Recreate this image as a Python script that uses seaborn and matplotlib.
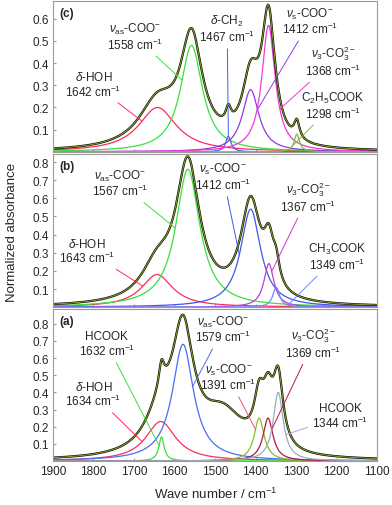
import numpy as np
import pandas as pd
import seaborn as sns
import matplotlib.pyplot as plt

# band parameters: centre (cm-1), height, half width
c_centres = [1642, 1558, 1467, 1412, 1368, 1298]
c_heights = [0.20, 0.48, 0.07, 0.28, 0.57, 0.08]
c_widths = [57, 33, 8, 25, 20, 8]
c_colors = ["#ff2b5e", "#3ae03a", "#3a62f0", "#8f3ae0", "#f03ad8", "#7ac23a"]

b_centres = [1643, 1567, 1412, 1367, 1349]
b_heights = [0.18, 0.76, 0.54, 0.24, 0.11]
b_widths = [47, 36, 30, 15, 10]
b_colors = ["#ff2b5e", "#3ae03a", "#3a5ae8", "#c43ad0", "#6e8cff"]

a_centres = [1634, 1632, 1579, 1391, 1369, 1344]
a_heights = [0.23, 0.14, 0.68, 0.25, 0.25, 0.40]
a_widths = [45, 8, 32, 15, 15, 15]
a_colors = ["#ff2b5e", "#3ae03a", "#4a6ef0", "#8cbc2a", "#b0184a", "#9aacbc"]
# broad unlabelled absorption under (a), only seen in the measured trace
a_bg_centre, a_bg_height, a_bg_width = 1480, 0.24, 65

wn = np.arange(1100, 1901, 1.0)


def band(x, x0, h, g):
    return h / (1 + ((x - x0) / g) ** 2)


plt.rcParams["mathtext.fontset"] = "custom"
plt.rcParams["mathtext.rm"] = "Liberation Sans"
plt.rcParams["mathtext.it"] = "Liberation Sans:italic"
sns.set_style("ticks")
plt.rcParams["font.family"] = ["Liberation Sans", "DejaVu Sans"]
plt.rcParams["font.size"] = 8.5

fig = plt.figure(figsize=(3.92, 5.06), dpi=100)
left, width = 0.135, 0.827
ax_c = fig.add_axes([left, 0.698, width, 0.298])
ax_b = fig.add_axes([left, 0.391, width, 0.303])
ax_a = fig.add_axes([left, 0.087, width, 0.300])

panels = [
    (ax_c, "(c)", c_centres, c_heights, c_widths, c_colors, 0.68, [0.1, 0.2, 0.3, 0.4, 0.5, 0.6], None),
    (ax_b, "(b)", b_centres, b_heights, b_widths, b_colors, 0.845, [0.1, 0.2, 0.3, 0.4, 0.5, 0.6, 0.7, 0.8], None),
    (ax_a, "(a)", a_centres, a_heights, a_widths, a_colors, 0.885, [0.1, 0.2, 0.3, 0.4, 0.5, 0.6, 0.7, 0.8],
     (a_bg_centre, a_bg_height, a_bg_width)),
]

for ax, tag, cen, hei, wid, cols, top, yt, bg in panels:
    total = np.zeros_like(wn)
    for x0, h, g, col in zip(cen, hei, wid, cols):
        y = band(wn, x0, h, g)
        total += y
        sns.lineplot(x=wn, y=y, ax=ax, color=col, linewidth=0.9)
    if bg is not None:
        total += band(wn, *bg)
    df = pd.DataFrame({"wn": wn, "abs": total})
    sns.lineplot(data=df, x="wn", y="abs", ax=ax, color="black", linewidth=1.6)
    sns.lineplot(data=df, x="wn", y="abs", ax=ax, color="#7f9a2c", linewidth=0.8)
    ax.set_xlim(1900, 1100)
    ax.set_ylim(0, top)
    ax.set_yticks(yt)
    ax.set_xticks(range(1900, 1099, -100))
    ax.set_xlabel("")
    ax.set_ylabel("")
    ax.tick_params(direction="in", length=2, color="#999999", labelsize=8.5, pad=3)
    for s in ax.spines.values():
        s.set_color("#9a9a9a")
        s.set_linewidth(0.8)
    ax.text(0.02, 0.96, tag, transform=ax.transAxes, fontweight="bold",
            fontsize=8.5, va="top", ha="left")

ax_c.tick_params(labelbottom=False)
ax_b.tick_params(labelbottom=False)


def label(ax, text, tx, ty, px, cen, hei, wid, i, col):
    ax.annotate(text, xy=(px, band(px, cen[i], hei[i], wid[i])), xytext=(tx, ty),
                ha="center", va="center", fontsize=8.5, linespacing=1.05,
                arrowprops=dict(arrowstyle="-", color=col, lw=0.7,
                                shrinkA=1, shrinkB=0))


# panel (c)
label(ax_c, "$\\nu_{\\rm as}$-COO$^{-}$\n1558 cm$^{-1}$", 1698, 0.52, 1581, c_centres, c_heights, c_widths, 1, c_colors[1])
label(ax_c, "$\\delta$-HOH\n1642 cm$^{-1}$", 1800, 0.305, 1680, c_centres, c_heights, c_widths, 0, c_colors[0])
label(ax_c, "$\\delta$-CH$_2$\n1467 cm$^{-1}$", 1470, 0.555, 1467, c_centres, c_heights, c_widths, 2, c_colors[2])
label(ax_c, "$\\nu_{\\rm s}$-COO$^{-}$\n1412 cm$^{-1}$", 1265, 0.59, 1395, c_centres, c_heights, c_widths, 3, c_colors[3])
label(ax_c, "$\\nu_3$-CO$_3^{2-}$\n1368 cm$^{-1}$", 1209, 0.41, 1340, c_centres, c_heights, c_widths, 4, c_colors[4])
label(ax_c, "C$_2$H$_5$COOK\n1298 cm$^{-1}$", 1209, 0.21, 1310, c_centres, c_heights, c_widths, 5, c_colors[5])

# panel (b)
label(ax_b, "$\\nu_{\\rm as}$-COO$^{-}$\n1567 cm$^{-1}$", 1735, 0.685, 1598, b_centres, b_heights, b_widths, 1, b_colors[1])
label(ax_b, "$\\delta$-HOH\n1643 cm$^{-1}$", 1816, 0.31, 1678, b_centres, b_heights, b_widths, 0, b_colors[0])
label(ax_b, "$\\nu_{\\rm s}$-COO$^{-}$\n1412 cm$^{-1}$", 1480, 0.72, 1440, b_centres, b_heights, b_widths, 2, b_colors[2])
label(ax_b, "$\\nu_3$-CO$_3^{2-}$\n1367 cm$^{-1}$", 1270, 0.61, 1360, b_centres, b_heights, b_widths, 3, b_colors[3])
label(ax_b, "CH$_3$COOK\n1349 cm$^{-1}$", 1199, 0.28, 1320, b_centres, b_heights, b_widths, 4, b_colors[4])

# panel (a)
label(ax_a, "HCOOK\n1632 cm$^{-1}$", 1767, 0.68, 1638, a_centres, a_heights, a_widths, 1, a_colors[1])
label(ax_a, "$\\delta$-HOH\n1634 cm$^{-1}$", 1800, 0.39, 1680, a_centres, a_heights, a_widths, 0, a_colors[0])
label(ax_a, "$\\nu_{\\rm as}$-COO$^{-}$\n1579 cm$^{-1}$", 1480, 0.77, 1555, a_centres, a_heights, a_widths, 2, a_colors[2])
label(ax_a, "$\\nu_{\\rm s}$-COO$^{-}$\n1391 cm$^{-1}$", 1467, 0.49, 1400, a_centres, a_heights, a_widths, 3, "#ff4a6e")
label(ax_a, "$\\nu_3$-CO$_3^{2-}$\n1369 cm$^{-1}$", 1258, 0.69, 1360, a_centres, a_heights, a_widths, 4, a_colors[4])
label(ax_a, "HCOOK\n1344 cm$^{-1}$", 1191, 0.26, 1325, a_centres, a_heights, a_widths, 5, "#cc99dd")

fig.text(0.03, 0.54, "Normalized absorbance", rotation=90, ha="center", va="center", fontsize=9.5)
fig.text(0.55, 0.008, "Wave number / cm$^{-1}$", ha="center", va="bottom", fontsize=9.5)

fig.savefig("out.png", dpi=100)
